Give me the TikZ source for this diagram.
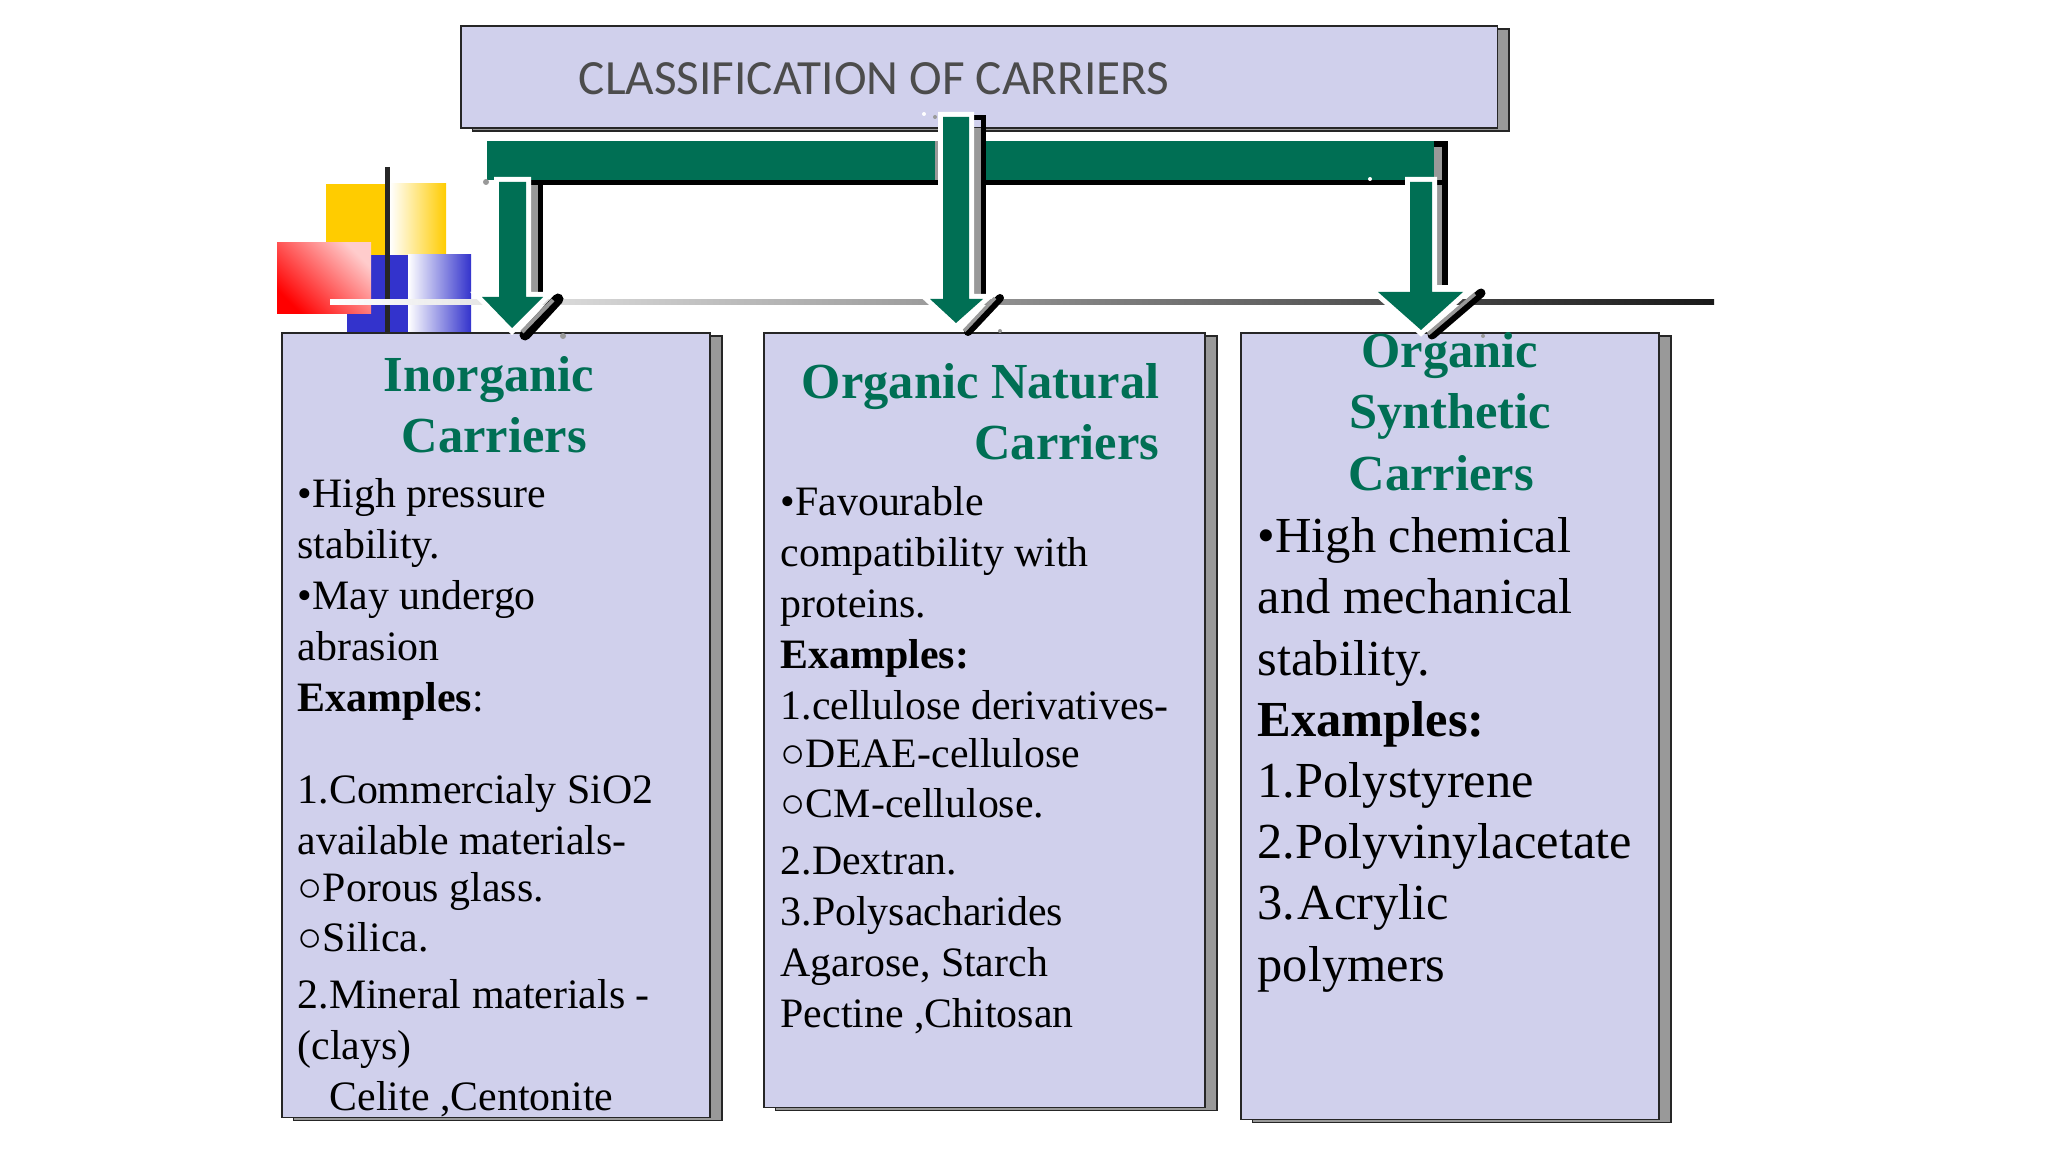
\documentclass[tikz,border=0pt]{standalone}
\usepackage{fontspec}
\setmainfont{Liberation Serif}
\newfontfamily\titlefont{Carlito}
\usetikzlibrary{positioning,shadows}
\definecolor{panelblue}{HTML}{D0D0EC}
\definecolor{carriergreen}{HTML}{006F54}
\definecolor{shadowgrey}{HTML}{999999}
\definecolor{squareyellow}{HTML}{FFCC00}
\definecolor{squareblue}{HTML}{3333CC}
\newcommand{\bodytext}{\fontsize{11.9}{14.5}\selectfont}
\newcommand{\bigtext}{\fontsize{14.35}{17.4}\selectfont}
\begin{document}
\begin{tikzpicture}[x=0.01cm,y=-0.01cm]
\tikzstyle{panel}=[rectangle, anchor=north west, inner sep=0pt, outer sep=0pt, fill=panelblue, draw=black!85, line width=0.5pt,
  general shadow={shadow xshift=0.115cm, shadow yshift=-0.03cm, fill=shadowgrey, draw=black!85, line width=0.5pt}]
\tikzstyle{heading}=[inner sep=0pt, text=carriergreen, font=\bigtext\bfseries]
\tikzstyle{body}=[inner sep=0pt, anchor=north west, align=left, font=\bodytext]
\tikzstyle{bodybig}=[inner sep=0pt, anchor=north west, align=left, font=\bigtext]
\tikzstyle{greenarrow}=[fill=carriergreen, preaction={draw=white, line width=1mm, line join=miter}]
\useasboundingbox (0,0) rectangle (2048,1152);
  % corner squares
  \fill[squareyellow] (326,184) rectangle (387,255);
  \shade[left color=white, right color=squareyellow] (390,184) rectangle (446,255);
  \fill[squareblue] (347,255) rectangle (408,333);
  \shade[left color=white, right color=squareblue] (408,255) rectangle (471,333);
  \shade[left color=red, middle color=red!45, right color=white!80!red, shading angle=135] (277,243) rectangle (371,314);
  \coordinate (vtop) at (387,167);
  \coordinate (vend) at (387,333);
  \draw[black!85, line width=0.5mm] (vtop) -- (vend);
  \shade[left color=white, right color=black!90] (330,299.5) rectangle (1714,304.5);
  % title
  \node[panel, minimum width=10.36cm, minimum height=1.02cm] (title) at (461,26) {};
  \node[inner sep=0pt, text=black!70, font=\titlefont\fontsize{14}{16}\selectfont, right=1.17cm of title.west, yshift=-0.02cm] (titletext) {CLASSIFICATION OF CARRIERS};
  % green bar
  \fill[black] (500,180) rectangle (950,185);
  \fill[shadowgrey] (935,141) rectangle (943,180);
  \fill[black] (943,141) rectangle (950,185);
  \fill[black] (974,180) rectangle (1448,185);
  \fill[black] (1434,141) rectangle (1448,147);
  \fill[shadowgrey] (1434,147) rectangle (1442,180);
  \fill[black] (1442,147) rectangle (1448,180);
  \fill[carriergreen] (487,141) rectangle (935,180);
  \fill[carriergreen] (974,141) rectangle (1434,180);
  % panels
  \node[panel, minimum width=4.28cm, minimum height=7.84cm] (inorganic) at (282,333) {};
  \node[panel, minimum width=4.41cm, minimum height=7.74cm] (natural) at (764,333) {};
  \node[panel, minimum width=4.18cm, minimum height=7.86cm] (synthetic) at (1241,333) {};
  % arrow shadows
  \fill[shadowgrey] (526,185) rectangle (538,292);
  \fill[black] (538,185) rectangle (543,292);
  \draw[black, line width=1.1mm, line cap=round] (558,299) -- (525,335);
  \draw[shadowgrey, line width=0.4mm] (553,300) -- (522,332);
  \fill[shadowgrey] (969,128) rectangle (981,295);
  \fill[black] (981,115) rectangle (986,295);
  \fill[black] (969,115) rectangle (986,120);
  \draw[black, line width=0.8mm, line cap=round] (1000,298) -- (968,332);
  \draw[shadowgrey, line width=0.35mm] (995,298) -- (964,331);
  \fill[shadowgrey] (1436,185) rectangle (1442,285);
  \fill[black] (1442,185) rectangle (1448,285);
  \draw[black, line width=0.9mm, line cap=round] (1481,293) -- (1432,335);
  \draw[shadowgrey, line width=0.35mm] (1475,294) -- (1428,334);
  % arrows
  \path[greenarrow] (499,182) -- (526,182) -- (526,297) -- (543,297) -- (512,328) -- (482,297) -- (499,297) -- cycle;
  \path[greenarrow] (943,117) -- (969,117) -- (969,299) -- (983,299) -- (956,323) -- (930,299) -- (943,299) -- cycle;
  \path[greenarrow] (1410,182) -- (1432,182) -- (1432,292) -- (1463,292) -- (1421,330) -- (1378,292) -- (1410,292) -- cycle;
  % stray dots
  \fill[shadowgrey] (486,182) circle (3);
  \fill[shadowgrey] (563,336) circle (3);
  \fill[shadowgrey] (935,117) circle (2);
  \fill[white] (924,114) circle (2);
  \fill[white] (1370,179) circle (2);
  \fill[shadowgrey] (1000,331) circle (2);
  \fill[shadowgrey] (1483,336) circle (2);
  % panel texts
  \node[heading, align=center, anchor=north] (inorganichead) at (489,356) {Inorganic\\\hspace*{3pt}Carriers};
  \node[heading, align=right, anchor=north east] (naturalhead) at (1160,363) {Organic Natural\\Carriers};
  \node[heading, align=center, anchor=north] (synthetichead) at (1450,332) {Organic\\Synthetic\\Carriers\hspace*{5pt}};
  \node[body] (inorganictext) at (297,478) {•High pressure\\stability.\\•May undergo\\abrasion\\\textbf{Examples}:\\[4.1mm]
    1.Commercialy SiO2\\available materials-\\[-1.2pt]○Porous glass.\\[-0.3pt]○Silica.\\[1.6pt]2.Mineral materials -\\(clays)\\\hspace*{3.2mm}Celite ,Centonite};
  \node[body] (naturaltext) at (780,486) {•Favourable\\compatibility with\\proteins.\\\textbf{Examples:}\\1.cellulose derivatives-\\[-0.8pt]○DEAE-cellulose\\[-0.3pt]○CM-cellulose.\\[1.6pt]2.Dextran.\\3.Polysacharides\\Agarose, Starch\\Pectine ,Chitosan};
  \node[bodybig] (synthetictext) at (1257,517) {•High chemical\\and mechanical\\stability.\\\textbf{Examples:}\\1.Polystyrene\\2.Polyvinylacetate\\3.\kern0.6pt Acrylic\\polymers};
\end{tikzpicture}
\end{document}
